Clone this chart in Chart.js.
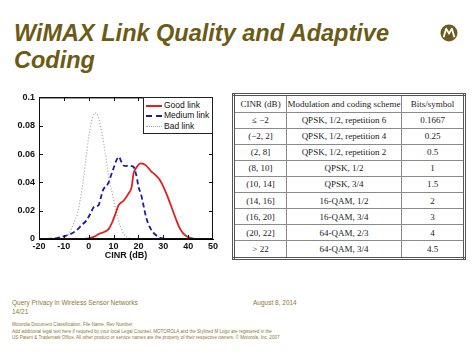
<!DOCTYPE html>
<html>
<head>
<meta charset="utf-8">
<script src="https://cdn.jsdelivr.net/npm/chart.js@4/dist/chart.umd.min.js"></script>
<style>
  html, body { margin: 0; padding: 0; background: #fff; }
  body { width: 474px; height: 355px; position: relative; overflow: hidden; font-family: "Liberation Sans", Arial, sans-serif; }
  #title { position: absolute; left: 14px; top: 20px; font-size: 23.5px; line-height: 27px; font-weight: bold; font-style: italic; color: #6b5b14; white-space: nowrap; }
  #logo { position: absolute; left: 440px; top: 24px; }
  #chartWrap { position: absolute; left: 0; top: 88px; width: 222px; height: 175px; }
  #chartWrap canvas { position: absolute; left: 0; top: 0; }
  .frame { position: absolute; box-sizing: border-box; border: 1px solid #111; z-index: 5; }
  .tk { position: absolute; background: #111; z-index: 5; }
  #legend { position: absolute; left: 143px; top: 97px; width: 68px; height: 35px; border: 1px solid #222; background: #fff; font-size: 8.5px; color: #111; z-index: 6; }
  .lg { position: absolute; left: 2px; height: 11px; line-height: 11px; white-space: nowrap; }
  .lg span.s { display: inline-block; width: 16px; vertical-align: middle; margin-right: 2px; }
  table { position: absolute; left: 232px; top: 93px; width: 231px; height: 167px; border-collapse: collapse; border: 3px double #555; font-family: "Liberation Serif", "Times New Roman", serif; font-size: 9px; color: #222; table-layout: fixed; }
  td, th { border: 1px solid #8a8a8a; text-align: center; padding: 0; font-weight: normal; white-space: nowrap; }
  .foot { position: absolute; color: #8a7a32; white-space: nowrap; }
</style>
</head>
<body>
<div id="title">WiMAX Link Quality and Adaptive<br>Coding</div>
<svg id="logo" width="18" height="18" viewBox="0 0 18 18">
  <circle cx="9" cy="9" r="8.5" fill="#6b5b1e"/>
  <path d="M3.6 13.2 L6.2 4.6 L9 9.6 L11.8 4.6 L14.4 13.2" fill="none" stroke="#fff" stroke-width="1.8" stroke-linejoin="round"/>
</svg>

<div id="chartWrap"><canvas id="c" width="222" height="175"></canvas></div>
<div id="legend">
  <div class="lg" style="top:2px"><span class="s" style="border-top:2px solid #e0201e"></span>Good link</div>
  <div class="lg" style="top:12px"><span class="s" style="border-top:2px dashed #1c1ca0"></span>Medium link</div>
  <div class="lg" style="top:23px"><span class="s" style="border-top:1.5px dotted #a0a0a0"></span>Bad link</div>
</div>

<table>
  <colgroup><col style="width:53px"><col style="width:115px"><col style="width:63px"></colgroup>
  <tbody id="tb"></tbody>
</table>

<div class="foot" style="left:12px; top:299px; font-size:6.5px;">Query Privacy in Wireless Sensor Networks</div>
<div class="foot" style="left:253px; top:299px; font-size:6.5px;">August 8, 2014</div>
<div class="foot" style="left:12px; top:308px; font-size:6.5px;">14/21</div>
<div class="foot" style="left:12px; top:322px; font-size:4.6px; line-height:6.6px;">Motorola Document Classification, File Name, Rev Number<br>Add additional legal text here if required by your local Legal Counsel. MOTOROLA and the Stylized M Logo are registered in the<br>US Patent &amp; Trademark Office. All other product or service names are the property of their respective owners. © Motorola, Inc. 2007</div>

<script>
// ---- Chart data ----
const xGood = [-10, -4, 0, 2, 4, 6, 8, 9.5, 11, 12, 14, 16, 17.3, 18, 19, 21, 23, 25, 27, 28.5, 30, 31.5, 33, 35, 36.5, 38, 40, 42, 44];
const yGood = [0, 0, 0.0005, 0.0015, 0.0035, 0.0048, 0.007, 0.012, 0.019, 0.0238, 0.027, 0.032, 0.037, 0.046, 0.050, 0.0534, 0.052, 0.048, 0.045, 0.042, 0.037, 0.031, 0.024, 0.0145, 0.008, 0.004, 0.0013, 0.0003, 0];

const xMedium = [-20, -14, -11, -8, -5, -3, -1, 1, 2, 4, 5, 6, 7, 8, 9, 10, 11, 12.2, 13, 14, 15, 16, 17, 18, 19, 19.5, 20, 21, 22, 23, 24, 25, 26, 27, 28, 30, 32, 35, 40, 43];
const yMedium = [0, 0.0003, 0.0015, 0.003, 0.006, 0.0095, 0.013, 0.019, 0.0225, 0.024, 0.030, 0.0355, 0.037, 0.040, 0.045, 0.050, 0.055, 0.058, 0.055, 0.052, 0.0515, 0.052, 0.0515, 0.051, 0.046, 0.042, 0.037, 0.032, 0.024, 0.016, 0.0105, 0.007, 0.0045, 0.0028, 0.0015, 0.0003, 0, 0, 0, 0];

const xBad = [-14, -12, -10, -8, -6, -4, -2, 0, 2, 3, 4, 6, 8, 10, 12, 14, 16, 18];
const yBad = [0, 0.0003, 0.001, 0.004, 0.011, 0.022, 0.044, 0.072, 0.088, 0.089, 0.085, 0.068, 0.045, 0.028, 0.013, 0.004, 0.001, 0];

const seriesNames = ["Good link", "Medium link", "Bad link"];
const xTickLabels = ["-20", "-10", "0", "10", "20", "30", "40", "50"];
const yTickLabels = ["0", "0.02", "0.04", "0.06", "0.08", "0.1"];
const xAxisTitle = "CINR (dB)";

// ---- Table data ----
const tableHeader = ["CINR (dB)", "Modulation and coding scheme", "Bits/symbol"];
const cinrRanges = ["\u2264 \u22122", "(\u22122, 2]", "(2, 8]", "(8, 10]", "(10, 14]", "(14, 16]", "(16, 20]", "(20, 22]", "> 22"];
const schemes = ["QPSK, 1/2, repetition 6", "QPSK, 1/2, repetition 4", "QPSK, 1/2, repetition 2", "QPSK, 1/2", "QPSK, 3/4", "16-QAM, 1/2", "16-QAM, 3/4", "64-QAM, 2/3", "64-QAM, 3/4"];
const bitsPerSymbol = ["0.1667", "0.25", "0.5", "1", "1.5", "2", "3", "4", "4.5"];

const tb = document.getElementById('tb');
const hr = document.createElement('tr');
tableHeader.forEach(h => { const th = document.createElement('th'); th.textContent = h; hr.appendChild(th); });
tb.appendChild(hr);
cinrRanges.forEach((r, i) => {
  const tr = document.createElement('tr');
  [r, schemes[i], bitsPerSymbol[i]].forEach(v => { const td = document.createElement('td'); td.textContent = v; tr.appendChild(td); });
  tb.appendChild(tr);
});

const pts = (xs, ys) => xs.map((x, i) => ({ x: x, y: ys[i] }));
const axisFont = { family: 'Liberation Sans', size: 9, weight: 'bold' };

const framePlugin = {
  id: 'plotFrame',
  afterDraw(ch) {
    const a = ch.chartArea, ctx = ch.ctx;
    ctx.save();
    ctx.setLineDash([]);
    ctx.globalAlpha = 1;
    ctx.strokeStyle = '#000';
    ctx.lineWidth = 1;
    ctx.strokeRect(a.left + 0.5, a.top + 0.5, a.right - a.left - 1, a.bottom - a.top - 1);
    ctx.restore();
  }
};

const chart = new Chart(document.getElementById('c'), {
  type: 'line',
  data: {
    datasets: [
      { label: seriesNames[0], data: pts(xGood, yGood), borderColor: '#e0201e', borderWidth: 1.8, pointRadius: 0, cubicInterpolationMode: 'monotone', fill: false },
      { label: seriesNames[1], data: pts(xMedium, yMedium), borderColor: '#1c1ca0', borderWidth: 1.8, borderDash: [5, 3], pointRadius: 0, cubicInterpolationMode: 'monotone', fill: false },
      { label: seriesNames[2], data: pts(xBad, yBad), borderColor: '#a0a0a0', borderWidth: 1.2, borderDash: [1, 2], pointRadius: 0, cubicInterpolationMode: 'monotone', fill: false }
    ]
  },
  options: {
    responsive: false,
    animation: false,
    layout: { padding: { top: 8, right: 9, left: 0, bottom: 0 } },
    plugins: { legend: { display: false }, tooltip: { enabled: false } },
    scales: {
      x: {
        type: 'linear', min: -20, max: 50,
        grid: { display: false, drawTicks: false }, border: { display: true, color: '#000', width: 1 },
        ticks: { stepSize: 10, padding: 2, color: '#111', font: axisFont, maxRotation: 0,
          callback: (v) => { const i = xTickLabels.indexOf(String(v)); return i >= 0 ? xTickLabels[i] : ''; } },
        title: { display: true, text: xAxisTitle, color: '#111', font: axisFont, padding: { top: 0, bottom: 2 } },
        afterFit: (s) => { s.height = 24; }
      },
      y: {
        min: 0, max: 0.1,
        grid: { display: false, drawTicks: false }, border: { display: true, color: '#000', width: 1 },
        ticks: { stepSize: 0.02, padding: 4, color: '#111', font: axisFont,
          callback: (v, i) => yTickLabels[i] },
        afterFit: (s) => { s.width = 39; }
      }
    }
  },
  plugins: [framePlugin]
});

// HTML frame and inward tick marks at body level, positioned from the chart's own layout and scales
(function drawFrame() {
  try {
    const wrap = document.getElementById('chartWrap');
    const offX = wrap.offsetLeft, offY = wrap.offsetTop;
    const sx = chart.scales.x, sy = chart.scales.y;
    const L = offX + Math.round(sx.left), R = offX + Math.round(sx.right);
    const T = offY + Math.round(sy.top), B = offY + Math.round(sy.bottom);
    const f = document.createElement('div');
    f.className = 'frame';
    f.style.left = L + 'px'; f.style.top = T + 'px';
    f.style.width = (R - L) + 'px'; f.style.height = (B - T) + 'px';
    document.body.appendChild(f);
    const mk = (x, y, w, h) => {
      const d = document.createElement('div'); d.className = 'tk';
      d.style.left = x + 'px'; d.style.top = y + 'px'; d.style.width = w + 'px'; d.style.height = h + 'px';
      document.body.appendChild(d);
    };
    sx.ticks.forEach(t => {
      const px = offX + Math.min(Math.round(sx.getPixelForValue(t.value)), Math.round(sx.right) - 1);
      mk(px, B - 4, 1, 4);
      mk(px, T, 1, 4);
    });
    sy.ticks.forEach(t => {
      const py = offY + Math.min(Math.round(sy.getPixelForValue(t.value)), Math.round(sy.bottom) - 1);
      mk(L, py, 4, 1);
      mk(R - 4, py, 4, 1);
    });
  } catch (e) { /* frame is decorative */ }
})();
</script>
</body>
</html>
